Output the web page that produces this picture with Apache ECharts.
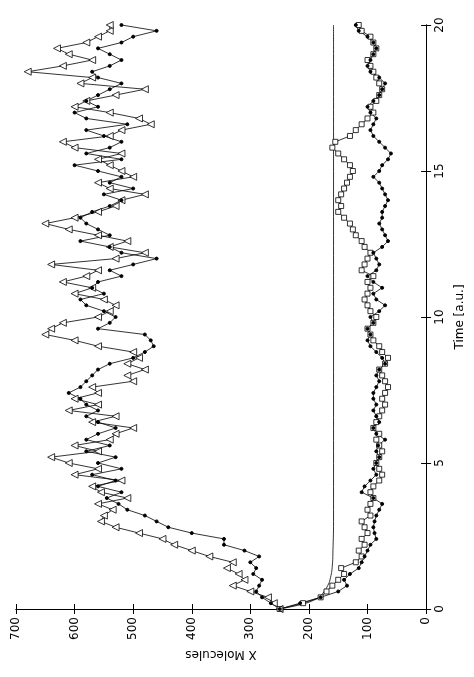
<!DOCTYPE html>
<html><head><meta charset="utf-8">
<script src="https://cdn.jsdelivr.net/npm/echarts@6/dist/echarts.min.js"></script>
<style>html,body{margin:0;padding:0;background:#fff}#c{width:474px;height:677px}</style>
</head><body><div id="c"></div>
<script>
const times = [];
for (let i = 0; i <= 100; i++) times.push(+(i * 0.2).toFixed(1));
const triUpper = [250,260,270,300,330,310,320,340,330,370,400,430,450,490,530,555,550,535,560,510,555,570,520,600,560,610,640,560,600,540,530,500,570,530,610,560,600,560,570,500,510,480,510,490,500,560,600,650,640,620,560,540,530,550,600,570,620,580,560,640,530,480,540,510,560,610,650,600,560,530,520,480,540,560,500,520,540,560,520,600,620,540,520,470,490,540,600,580,530,480,590,570,680,620,570,610,630,580,560,540,540];
const dotUpper = [250,265,280,290,285,280,295,290,300,285,310,345,345,400,440,460,480,510,525,545,520,560,530,570,520,560,530,580,540,580,560,530,560,580,560,580,590,610,590,580,570,560,540,500,480,465,470,480,560,540,530,550,580,590,550,570,560,520,540,500,460,520,540,590,540,560,580,590,570,540,520,550,500,540,520,560,600,520,580,540,520,550,580,510,580,600,560,580,560,540,520,560,570,540,520,540,560,520,500,460,520];
const dotLower = [250,215,180,150,135,140,130,115,110,105,100,95,85,88,90,88,85,80,75,90,110,105,95,85,90,85,80,85,82,70,85,90,80,85,90,85,90,90,85,80,85,80,70,75,85,95,100,95,100,90,95,80,70,85,90,75,90,100,85,80,85,90,75,65,70,75,80,75,75,70,65,70,75,80,90,80,75,65,60,70,80,90,95,90,85,95,100,90,80,75,70,80,95,100,95,90,85,90,100,115,120];
const squares = [250,210,180,170,160,150,140,145,120,110,115,105,110,100,105,110,95,100,95,90,95,90,80,75,80,85,80,75,80,85,80,90,85,80,75,70,75,70,65,70,75,80,70,65,75,80,90,95,100,90,85,95,100,105,100,95,100,90,110,105,100,95,105,110,120,125,130,140,150,145,150,145,140,135,130,125,130,140,150,160,155,130,120,110,100,90,95,85,80,75,80,85,90,95,100,90,85,90,95,110,115];
const detTimes = [0,0.1,0.2,0.3,0.4,0.6,0.8,1.0,1.5,2,3,20];
const detVals = [250,225,205,192,183,174,168,164,160,159,158,158];
const xTicks = [0,100,200,300,400,500,600,700];
const yTicks = [0,5,10,15,20];

const pair = (vals, ts) => vals.map((v, i) => [v, ts[i]]);
const base = {type:'line', lineStyle:{color:'#000', width:0.8}, animation:false};
const chart = echarts.init(document.getElementById('c'));
chart.setOption({
  backgroundColor:'#fff',
  grid:{left:16, right:42, top:25, bottom:68},
  xAxis:[{type:'value', min:0, max:700, interval:100, inverse:true, position:'bottom',
    name:'X Molecules', nameLocation:'middle', nameGap:38, nameRotate:180,
    nameTextStyle:{fontFamily:'DejaVu Sans', fontSize:12, color:'#000'},
    axisLine:{lineStyle:{color:'#000'}}, axisTick:{inside:true, length:5, lineStyle:{color:'#000'}},
    axisLabel:{rotate:90, fontFamily:'DejaVu Sans', fontSize:12, color:'#000', margin:8,
      formatter:v => xTicks.includes(v) ? String(v) : ''},
    splitLine:{show:false}},
   {type:'value', min:0, max:700, interval:100, inverse:true, position:'top',
    axisLine:{lineStyle:{color:'#000'}}, axisTick:{inside:true, length:5, lineStyle:{color:'#000'}},
    axisLabel:{show:false}, splitLine:{show:false}}],
  yAxis:[{type:'value', min:0, max:20, interval:5, position:'right',
    name:'Time [a.u.]', nameLocation:'middle', nameGap:24, nameRotate:90,
    nameTextStyle:{fontFamily:'DejaVu Sans', fontSize:12, color:'#000'},
    axisLine:{lineStyle:{color:'#000'}}, axisTick:{inside:true, length:5, lineStyle:{color:'#000'}},
    axisLabel:{rotate:90, fontFamily:'DejaVu Sans', fontSize:12, color:'#000', margin:8,
      formatter:v => yTicks.includes(v) ? String(v) : ''},
    splitLine:{show:false}},
   {type:'value', min:0, max:20, interval:5, position:'left',
    axisLine:{lineStyle:{color:'#000'}}, axisTick:{inside:true, length:5, lineStyle:{color:'#000'}},
    axisLabel:{show:false}, splitLine:{show:false}}],
  series:[
    Object.assign({}, base, {data:pair(detVals, detTimes), symbol:'none', smooth:true}),
    Object.assign({}, base, {data:pair(triUpper, times), symbol:'triangle', symbolRotate:90, symbolSize:7,
      itemStyle:{color:'#fff', borderColor:'#000', borderWidth:0.8}}),
    Object.assign({}, base, {data:pair(dotUpper, times), symbol:'circle', symbolSize:3,
      itemStyle:{color:'#000', borderColor:'#000'}}),
    Object.assign({}, base, {data:pair(squares, times), symbol:'rect', symbolSize:5,
      itemStyle:{color:'#fff', borderColor:'#000', borderWidth:0.8}}),
    Object.assign({}, base, {data:pair(dotLower, times), symbol:'circle', symbolSize:3,
      itemStyle:{color:'#000', borderColor:'#000'}})
  ]
});
</script></body></html>
